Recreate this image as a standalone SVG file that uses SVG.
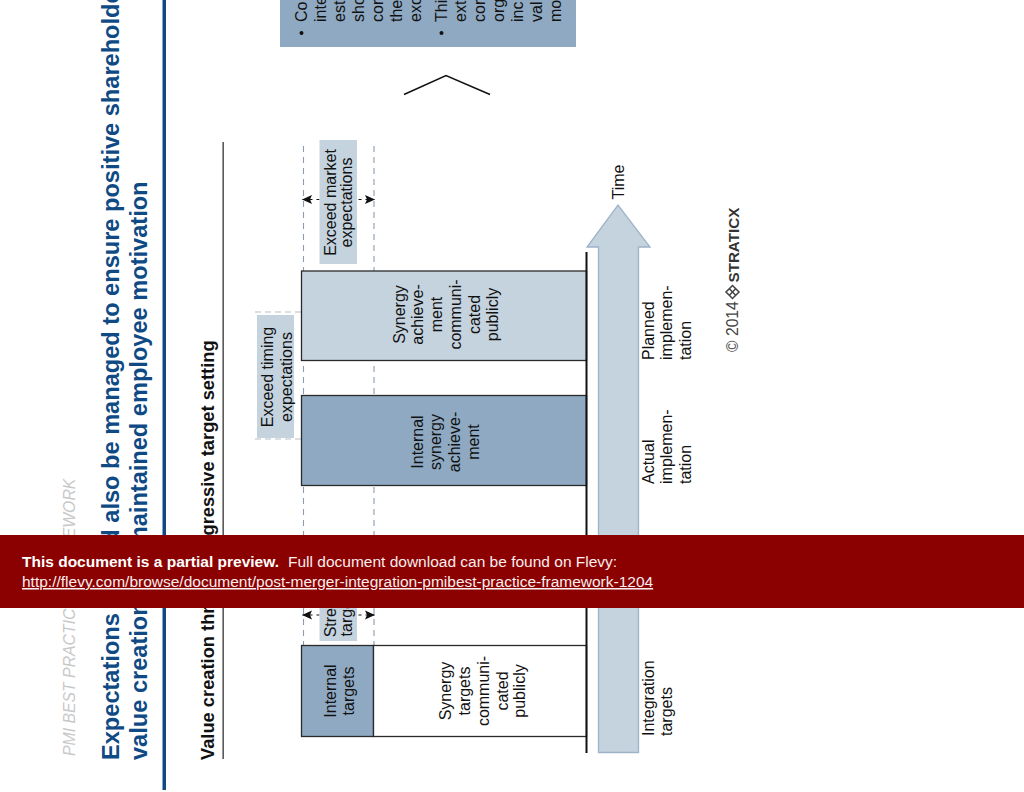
<svg xmlns="http://www.w3.org/2000/svg" width="1024" height="792" viewBox="0 0 1024 792">
<style>
text{font-family:"Liberation Sans",Arial,sans-serif;fill:#111}
.l{font-size:16px}
.c{font-size:16px;text-anchor:middle}
.t{font-size:23.600px;font-weight:700;fill:#0f4a85}
.dash{stroke:#8b9cb0;stroke-width:1.100;stroke-dasharray:6 5;fill:none}
.dash2{stroke:#b5bfca;stroke-width:1.200;stroke-dasharray:6 4;fill:none}
.box{stroke:#2a2a2a;stroke-width:1.300}
.ban{font-size:15.500px;fill:#f8eeee}
</style>
<defs>
<marker id="ah" viewBox="0 0 10 10" refX="9.500" refY="5" markerWidth="10" markerHeight="10" markerUnits="userSpaceOnUse" orient="auto-start-reverse"><path d="M0 0.500L10 5L0 9.500L2 5Z" fill="#111"/></marker>
</defs>
<rect width="1024" height="792" fill="#fff"/>
<g id="header">
<text transform="translate(75,756) rotate(-90)" font-size="15.800" font-style="italic" style="fill:#c8c8c8">PMI BEST PRACTICES FRAMEWORK</text>
<text class="t" transform="translate(119,760) rotate(-90)">Expectations should also be managed to ensure positive shareholder</text>
<text class="t" transform="translate(147,760) rotate(-90)">value creation and <tspan dx="-1">maintained employee motivation</tspan></text>
<rect x="162.500" y="0" width="3.500" height="790" fill="#0f4a85"/>
<text transform="translate(214,760) rotate(-90)" font-size="18.300" font-weight="700">Value creation through aggressive target setting</text>
<rect x="222.500" y="142" width="1.300" height="617" fill="#333"/>
</g>
<g id="top-box">
<rect x="280" y="0" width="296" height="47" fill="#8ea9c1"/>
<circle cx="301.500" cy="33" r="2" fill="#111"/>
<circle cx="441.500" cy="33" r="2" fill="#111"/>
<text class="l" transform="translate(307,22) rotate(-90)">Co</text>
<text class="l" transform="translate(326,22) rotate(-90)">inte</text>
<text class="l" transform="translate(345,22) rotate(-90)">est</text>
<text class="l" transform="translate(364,22) rotate(-90)">sho</text>
<text class="l" transform="translate(383,22) rotate(-90)">cor</text>
<text class="l" transform="translate(402,22) rotate(-90)">the</text>
<text class="l" transform="translate(421,22) rotate(-90)">exc</text>
<text class="l" transform="translate(447,22) rotate(-90)">Thi</text>
<text class="l" transform="translate(466,22) rotate(-90)">ext</text>
<text class="l" transform="translate(485,22) rotate(-90)">cor</text>
<text class="l" transform="translate(504,22) rotate(-90)">org</text>
<text class="l" transform="translate(523,22) rotate(-90)">inc</text>
<text class="l" transform="translate(542,22) rotate(-90)">val</text>
<text class="l" transform="translate(561,22) rotate(-90)">mo</text>
</g>
<g id="connectors">
<polyline points="404,94.500 446,75.500 490,94.500" fill="none" stroke="#111" stroke-width="1.500"/>
<line class="dash" x1="303.500" y1="146" x2="303.500" y2="645"/>
<line class="dash" x1="374" y1="146" x2="374" y2="645"/>
<line x1="302.500" y1="199.500" x2="374.500" y2="199.500" stroke="#111" stroke-width="1.200" stroke-dasharray="3 4" marker-start="url(#ah)" marker-end="url(#ah)"/>
<line x1="302.500" y1="615" x2="374.500" y2="615" stroke="#111" stroke-width="1.200" stroke-dasharray="3 4" marker-start="url(#ah)" marker-end="url(#ah)"/>
<line class="dash2" x1="255" y1="312" x2="301" y2="312"/>
<line class="dash2" x1="255" y1="439" x2="301" y2="439"/>
</g>
<g id="exceed-market">
<rect x="319.500" y="140" width="37.500" height="124" fill="#c5d3df"/>
<text class="c" transform="translate(336,202.500) rotate(-90)">Exceed market</text>
<text class="c" transform="translate(352,202.500) rotate(-90)">expectations</text>
</g>
<g id="stretch-targets">
<rect x="319.500" y="560" width="37.500" height="81" fill="#c5d3df"/>
<text class="c" transform="translate(336,612) rotate(-90)">Stretch</text>
<text class="c" transform="translate(352,612) rotate(-90)">targets</text>
</g>
<g id="exceed-timing">
<rect x="257" y="315" width="37" height="123" fill="#c5d3df"/>
<text class="c" transform="translate(273,377) rotate(-90)">Exceed timing</text>
<text class="c" transform="translate(292,377) rotate(-90)">expectations</text>
</g>
<g id="time-arrow">
<path d="M598.500 752.500V247H587L618 205L650 247H638.500V752.500Z" fill="#c5d3df" stroke="#9db3c7" stroke-width="1.300"/>
<text class="c" transform="translate(624,182) rotate(-90)">Time</text>
</g>
<g id="synergy-achievement">
<rect class="box" x="301.500" y="271" width="285" height="89.500" fill="#c5d3df"/>
<text class="c" transform="translate(405,314.500) rotate(-90)">Synergy</text>
<text class="c" transform="translate(423,314.500) rotate(-90)">achieve-</text>
<text class="c" transform="translate(442,314.500) rotate(-90)">ment</text>
<text class="c" transform="translate(461,314.500) rotate(-90)">communi-</text>
<text class="c" transform="translate(480,314.500) rotate(-90)">cated</text>
<text class="c" transform="translate(498,314.500) rotate(-90)">publicly</text>
</g>
<g id="internal-achievement">
<rect class="box" x="301.500" y="395.500" width="285" height="90" fill="#8ea9c1"/>
<text class="c" transform="translate(423,442) rotate(-90)">Internal</text>
<text class="c" transform="translate(441,442) rotate(-90)">synergy</text>
<text class="c" transform="translate(460,442) rotate(-90)">achieve-</text>
<text class="c" transform="translate(479,442) rotate(-90)">ment</text>
</g>
<g id="internal-targets">
<rect class="box" x="301.500" y="645.500" width="72" height="91" fill="#8ea9c1"/>
<text class="c" transform="translate(336,691) rotate(-90)">Internal</text>
<text class="c" transform="translate(354,691) rotate(-90)">targets</text>
</g>
<g id="synergy-targets">
<rect class="box" x="373.500" y="645.500" width="213" height="91" fill="#fff"/>
<text class="c" transform="translate(451,691) rotate(-90)">Synergy</text>
<text class="c" transform="translate(470,691) rotate(-90)">targets</text>
<text class="c" transform="translate(489,691) rotate(-90)">communi-</text>
<text class="c" transform="translate(508,691) rotate(-90)">cated</text>
<text class="c" transform="translate(525,691) rotate(-90)">publicly</text>
</g>
<rect id="axis" x="585.500" y="252" width="2" height="501" fill="#111"/>
<g id="labels">
<text class="l" transform="translate(654,360) rotate(-90)">Planned</text>
<text class="l" transform="translate(672,360) rotate(-90)">implemen-</text>
<text class="l" transform="translate(691,360) rotate(-90)">tation</text>
<text class="l" transform="translate(654,484) rotate(-90)">Actual</text>
<text class="l" transform="translate(672,484) rotate(-90)">implemen-</text>
<text class="l" transform="translate(691,484) rotate(-90)">tation</text>
<text class="l" transform="translate(654,736) rotate(-90)">Integration</text>
<text class="l" transform="translate(672,736) rotate(-90)">targets</text>
</g>
<g id="copyright">
<text transform="translate(738,352) rotate(-90)" font-size="15.700" style="fill:#444">© 2014</text>
<g transform="translate(732.500,292)" fill="none" stroke="#444" stroke-width="1.500"><path d="M0-6.500L6.500 0L0 6.500L-6.500 0Z"/><path d="M-3.200-3.200L3.200 3.200M3.200-3.200L-3.200 3.200"/></g>
<text transform="translate(738.500,282.500) rotate(-90)" font-size="15.200" font-weight="700" style="fill:#333">STRATICX</text>
</g>
<g id="banner">
<rect x="0" y="535" width="1024" height="73" fill="#8b0000"/>
<text class="ban" x="22" y="567" font-weight="700" style="fill:#fff">This document is a partial preview.</text>
<text class="ban" x="288" y="567">Full document download can be found on Flevy:</text>
<text class="ban" x="22" y="587" text-decoration="underline">http://flevy.com/browse/document/post-merger-integration-pmibest-practice-framework-1204</text>
</g>
</svg>
